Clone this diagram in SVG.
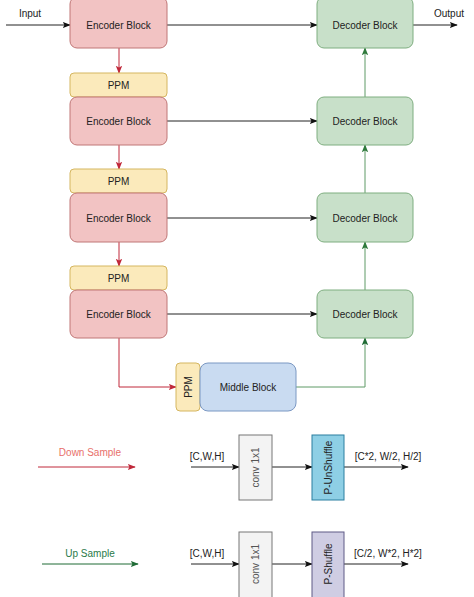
<svg xmlns="http://www.w3.org/2000/svg" width="474" height="597" viewBox="0 0 474 597">
<style>
text{font-family:"Liberation Sans",Arial,sans-serif;font-size:10px;fill:#222;text-anchor:middle;dominant-baseline:central}
.enc{fill:#f2c3c3;stroke:#c07676;stroke-width:1}
.ppm{fill:#fbeabb;stroke:#d5b660;stroke-width:1}
.dec{fill:#c8e0c9;stroke:#7fae80;stroke-width:1}
.mid{fill:#c9dbf1;stroke:#7b98c3;stroke-width:1}
.conv{fill:#f3f3f3;stroke:#777;stroke-width:1}
.blk{stroke:#222;stroke-width:1;fill:none}
.red{stroke:#c0283a;stroke-width:1;fill:none}
.grn{stroke:#5e9a66;stroke-width:1;fill:none}
.grnd{stroke:#1f6b35;stroke-width:1;fill:none}
</style>
<defs>
<marker id="ab" viewBox="0 0 10 10" refX="9" refY="5" markerWidth="8" markerHeight="8" markerUnits="userSpaceOnUse" orient="auto"><path d="M0,1 L10,5 L0,9 L2,5 Z" fill="#111"/></marker>
<marker id="ar" viewBox="0 0 10 10" refX="9" refY="5" markerWidth="8" markerHeight="8" markerUnits="userSpaceOnUse" orient="auto"><path d="M0,1 L10,5 L0,9 L2,5 Z" fill="#c0283a"/></marker>
<marker id="ag" viewBox="0 0 10 10" refX="9" refY="5" markerWidth="8" markerHeight="8" markerUnits="userSpaceOnUse" orient="auto"><path d="M0,1 L10,5 L0,9 L2,5 Z" fill="#2f7a3c"/></marker>
<marker id="agd" viewBox="0 0 10 10" refX="9" refY="5" markerWidth="8" markerHeight="8" markerUnits="userSpaceOnUse" orient="auto"><path d="M0,1 L10,5 L0,9 L2,5 Z" fill="#1f6b35"/></marker>
</defs>
<rect width="474" height="597" fill="#fff"/>
<g id="connectors">
<line class="blk" x1="6" y1="25" x2="70" y2="25" marker-end="url(#ab)"/>
<line class="blk" x1="413" y1="25" x2="457" y2="25" marker-end="url(#ab)"/>
<line class="blk" x1="167" y1="25" x2="317" y2="25" marker-end="url(#ab)"/>
<line class="blk" x1="167" y1="121" x2="317" y2="121" marker-end="url(#ab)"/>
<line class="blk" x1="167" y1="218" x2="317" y2="218" marker-end="url(#ab)"/>
<line class="blk" x1="167" y1="314" x2="317" y2="314" marker-end="url(#ab)"/>
<line class="red" x1="119" y1="48" x2="119" y2="73" marker-end="url(#ar)"/>
<line class="red" x1="119" y1="145" x2="119" y2="169" marker-end="url(#ar)"/>
<line class="red" x1="119" y1="242" x2="119" y2="266" marker-end="url(#ar)"/>
<polyline class="red" points="119,338 119,387 176,387" marker-end="url(#ar)"/>
<polyline class="grn" points="296,387 365,387 365,338" marker-end="url(#agd)"/>
<line class="grn" x1="365" y1="290" x2="365" y2="242" marker-end="url(#ag)"/>
<line class="grn" x1="365" y1="193" x2="365" y2="145" marker-end="url(#ag)"/>
<line class="grn" x1="365" y1="97" x2="365" y2="48" marker-end="url(#ag)"/>
<line class="red" x1="38" y1="467" x2="135" y2="467" marker-end="url(#ar)"/>
<line class="grnd" x1="42" y1="564" x2="138" y2="564" marker-end="url(#agd)"/>
<line class="blk" x1="191" y1="467" x2="239" y2="467" marker-end="url(#ab)"/>
<line class="blk" x1="272" y1="467" x2="312" y2="467" marker-end="url(#ab)"/>
<line class="blk" x1="344" y1="467" x2="408" y2="467" marker-end="url(#ab)"/>
<line class="blk" x1="191" y1="564" x2="239" y2="564" marker-end="url(#ab)"/>
<line class="blk" x1="272" y1="564" x2="312" y2="564" marker-end="url(#ab)"/>
<line class="blk" x1="344" y1="564" x2="408" y2="564" marker-end="url(#ab)"/>
</g>
<g id="labels">
<text x="30" y="13">Input</text>
<text x="449" y="13">Output</text>
<text x="90" y="452" style="fill:#e8706a">Down Sample</text>
<text x="90" y="553" style="fill:#2a7a4a">Up Sample</text>
<text x="207" y="456">[C,W,H]</text>
<text x="207" y="553">[C,W,H]</text>
<text x="388" y="456">[C*2, W/2, H/2]</text>
<text x="388" y="553">[C/2, W*2, H*2]</text>
</g>
<g id="enc1"><rect class="enc" x="70" y="-3" width="97" height="51" rx="7"/><text x="118.5" y="25">Encoder Block</text></g>
<g id="ppm1"><rect class="ppm" x="70" y="73" width="97" height="24" rx="4"/><text x="118.5" y="85">PPM</text></g>
<g id="enc2"><rect class="enc" x="70" y="97" width="97" height="48" rx="7"/><text x="118.5" y="121">Encoder Block</text></g>
<g id="ppm2"><rect class="ppm" x="70" y="169" width="97" height="24" rx="4"/><text x="118.5" y="181">PPM</text></g>
<g id="enc3"><rect class="enc" x="70" y="193" width="97" height="49" rx="7"/><text x="118.5" y="218">Encoder Block</text></g>
<g id="ppm3"><rect class="ppm" x="70" y="266" width="97" height="24" rx="4"/><text x="118.5" y="278">PPM</text></g>
<g id="enc4"><rect class="enc" x="70" y="290" width="97" height="48" rx="7"/><text x="118.5" y="314">Encoder Block</text></g>
<g id="dec1"><rect class="dec" x="317" y="-3" width="96" height="51" rx="7"/><text x="365" y="25">Decoder Block</text></g>
<g id="dec2"><rect class="dec" x="317" y="97" width="96" height="48" rx="7"/><text x="365" y="121">Decoder Block</text></g>
<g id="dec3"><rect class="dec" x="317" y="193" width="96" height="49" rx="7"/><text x="365" y="218">Decoder Block</text></g>
<g id="dec4"><rect class="dec" x="317" y="290" width="96" height="48" rx="7"/><text x="365" y="314">Decoder Block</text></g>
<g id="ppm4"><rect class="ppm" x="176" y="363" width="24" height="48" rx="4"/><text x="188" y="387" transform="rotate(-90 188 387)">PPM</text></g>
<g id="middle"><rect class="mid" x="200" y="363" width="96" height="48" rx="8"/><text x="248" y="387">Middle Block</text></g>
<g id="conv1"><rect class="conv" x="239" y="435" width="33" height="65"/><text x="255.5" y="467.5" transform="rotate(-90 255.5 467.5)" style="fill:#555">conv 1x1</text></g>
<g id="unshuffle"><rect x="312" y="435" width="32" height="65" fill="#8ecfe5" stroke="#2a7fa0"/><text x="328" y="467.5" transform="rotate(-90 328 467.5)">P-UnShuffle</text></g>
<g id="conv2"><rect class="conv" x="239" y="532" width="33" height="70"/><text x="255.5" y="564" transform="rotate(-90 255.5 564)" style="fill:#555">conv 1x1</text></g>
<g id="shuffle"><rect x="312" y="532" width="32" height="70" fill="#cfcde3" stroke="#5f5a86"/><text x="328" y="564" transform="rotate(-90 328 564)">P-Shuffle</text></g>
</svg>
